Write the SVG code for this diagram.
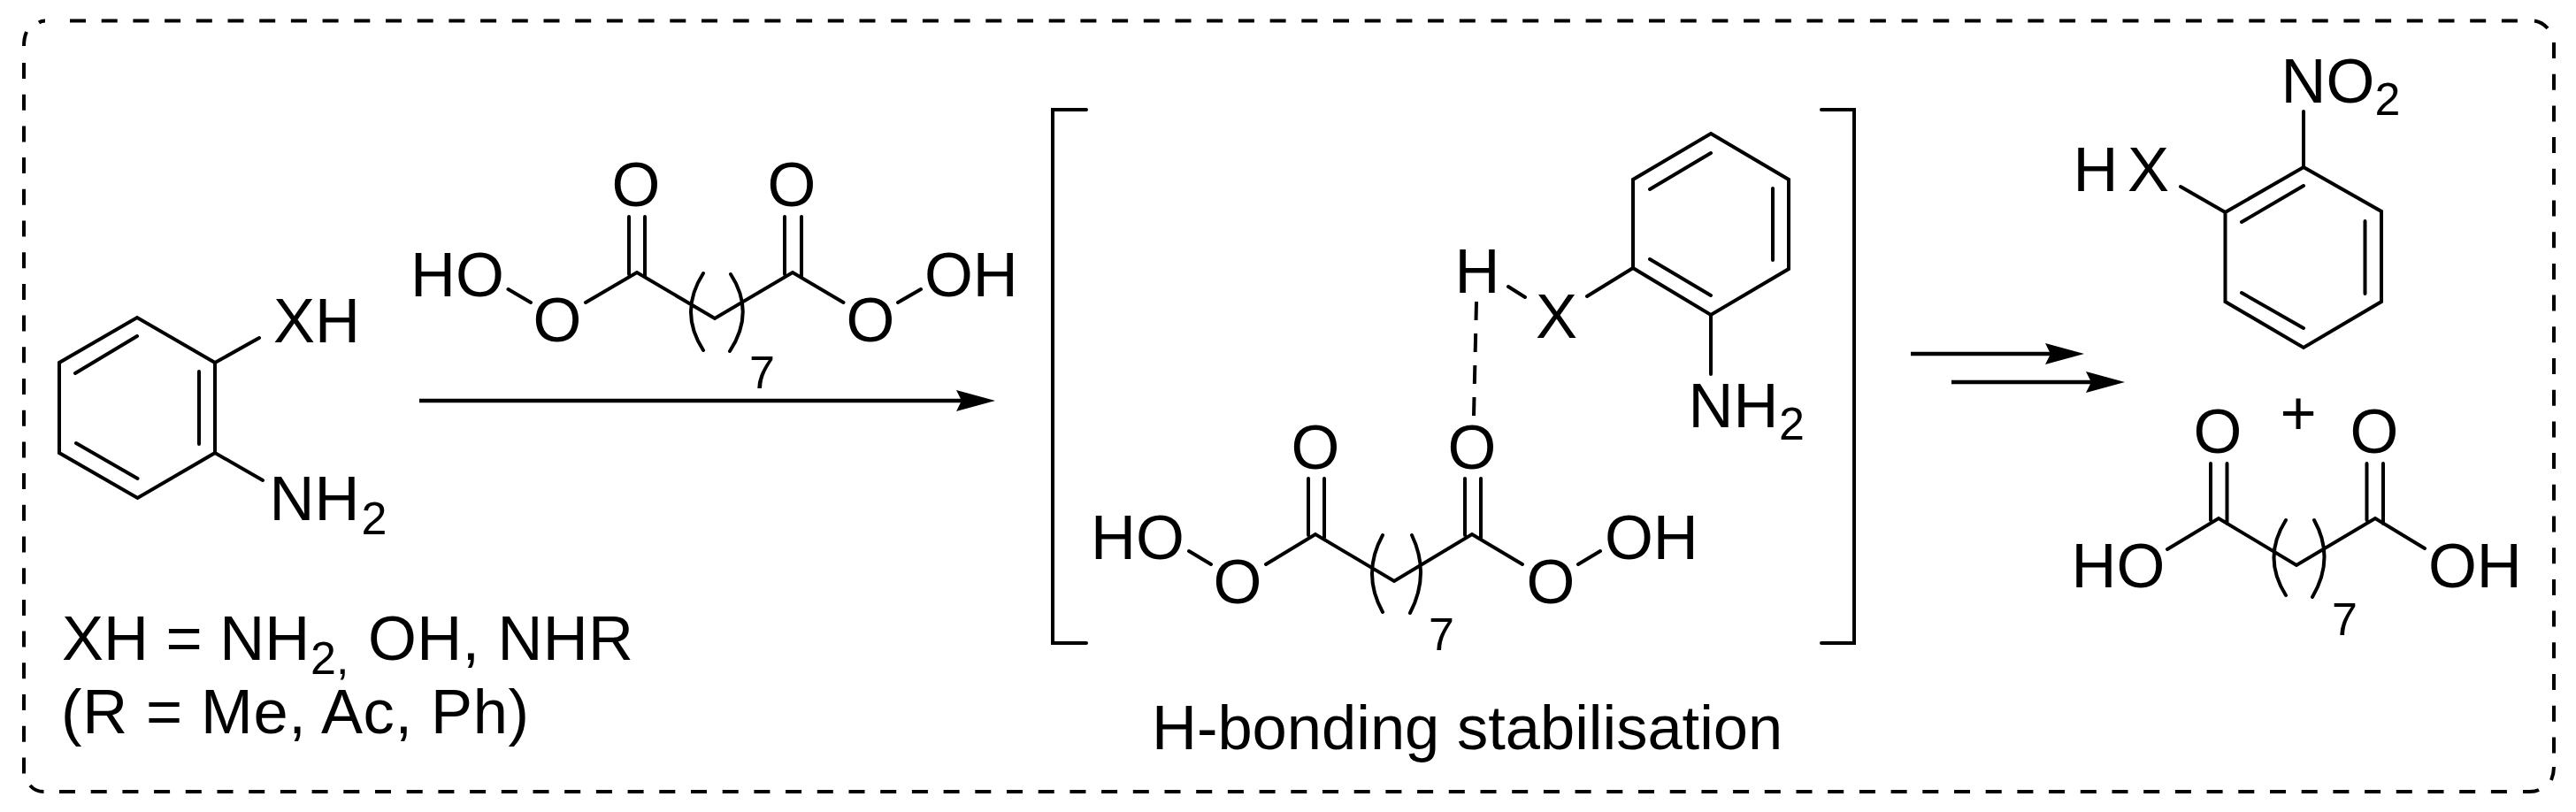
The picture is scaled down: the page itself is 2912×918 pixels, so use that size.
<svg xmlns="http://www.w3.org/2000/svg" width="2912" height="918" viewBox="0 0 2912 918">
<style>
.b{fill:none;stroke:#000;stroke-width:4;stroke-linecap:round;stroke-linejoin:miter}
.t{font-family:"Liberation Sans",Arial,sans-serif;font-size:70.5px;fill:#000}
.m{text-anchor:middle}
.s{font-family:"Liberation Sans",Arial,sans-serif;font-size:52px;fill:#000}
.frame{fill:none;stroke:#000;stroke-width:4;stroke-dasharray:18 17.7}
.corner{fill:none;stroke:#000;stroke-width:4}
.arrow{fill:none;stroke:#000;stroke-width:4.5;marker-end:url(#head)}
</style>
<defs>
<marker id="head" markerUnits="userSpaceOnUse" markerWidth="46" markerHeight="26" refX="6" refY="12" orient="auto" overflow="visible">
<path d="M0 0L44 12L0 24L6 12Z" fill="#000"/>
</marker>
</defs>
<g id="frame">
<path class="frame" d="M79 23.5H2846M2887 48V860M67 895H2846M27 71V875"/>
<path class="corner" d="M27 52Q27 43 30 36M44 25.5Q47 23.5 51 23.5M2865 23.5Q2874 25 2880 32M2887 867Q2887 875 2884 882M2852 895H2860Q2866 895 2870 893M34 888Q40 895 49.500 895"/>
</g>
<g id="connectors">
<path class="arrow" d="M474 453H1087"/>
<path class="arrow" d="M2160 400H2318"/>
<path class="arrow" d="M2206 432H2364"/>
</g>
<g id="aniline">
<path class="b" d="M243 410L155 359L67 410V512L155.500 563L243 512ZM85 422L155 380M225 420V502M86 501L155.500 541M243 410L293 382M243 512L297 543"/>
<text class="t" x="309" y="387">XH</text>
<text class="t" x="304.500" y="588">NH</text>
<text class="s" x="408.500" y="604">2</text>
</g>
<g id="conditions">
<text class="t" x="70" y="746">XH = NH</text>
<text class="s" x="351" y="762">2,</text>
<text class="t" x="416" y="746" textLength="300">OH, NHR</text>
<text class="t" x="69" y="829" textLength="529">(R = Me, Ac, Ph)</text>
</g>
<g id="reagent">
<path class="b" d="M574.500 327L600 342M662 342L720 308L808 360L896 308L953.500 342M1015 342L1041 327M711 245V310M729 245V313M887 245V310M906 245V313M795 309Q767 352.500 795 396M826 310Q854 353 825 397"/>
<text class="t" x="464" y="335">HO</text>
<text class="t m" x="630" y="386">O</text>
<text class="t m" x="719" y="233">O</text>
<text class="t m" x="895" y="233">O</text>
<text class="t m" x="984" y="386">O</text>
<text class="t" x="1045" y="335">OH</text>
<text class="s" x="847" y="439">7</text>
</g>
<g id="intermediate">
<path class="b" d="M1228 124H1190V727H1228M2059 124H2096V727H2059"/>
<path class="b" d="M1934 151L2022 203V304L1934 356L1846 303V203ZM1865 214L1934 173M2004 213V294M1865 293L1934 334M1846 303L1794 335M1705 324L1724 336M1934 356V423M1344 623L1369 638M1431 638L1487 604L1576 657L1664 604L1721 638M1784 638L1809 623M1479 541V605M1497 541V608M1656 541V605M1674 541V608M1563 605Q1539 648.500 1563 692M1596 605Q1617 649 1594 693"/>
<path class="b" style="stroke-dasharray:21 15;stroke-linecap:butt" d="M1669 341L1666 470"/>
<text class="t" x="1644.500" y="331">H</text>
<text class="t" x="1736" y="382">X</text>
<text class="t" x="1908.500" y="483">NH</text>
<text class="s" x="2011" y="497">2</text>
<text class="t" x="1233" y="632">HO</text>
<text class="t m" x="1399" y="682">O</text>
<text class="t m" x="1487" y="530">O</text>
<text class="t m" x="1664" y="530">O</text>
<text class="t m" x="1753" y="682">O</text>
<text class="t" x="1814" y="632">OH</text>
<text class="s" x="1615" y="735">7</text>
<text class="t" x="1302" y="847">H-bonding stabilisation</text>
</g>
<g id="nitro-product">
<path class="b" d="M2604 189L2692 239V341L2604 393L2515.500 341V240ZM2534 251L2604 210M2673.500 250V332M2534 331L2604 371M2604 126V189M2515.500 240L2465 211"/>
<text class="t" x="2578.500" y="116">NO</text>
<text class="s" x="2684.500" y="130">2</text>
<text class="t" x="2343.500" y="216">H</text>
<text class="t" x="2405" y="216">X</text>
</g>
<g id="plus"><text class="t m" x="2598" y="491">+</text></g>
<g id="acid-product">
<path class="b" d="M2450 621L2508 586L2596 639L2685 586L2741 620M2499 524V588M2517.500 524V592M2675.500 524V588M2694 524V592M2584 588Q2557 630.500 2584 673M2616 588Q2640 631 2614 675"/>
<text class="t" x="2341.500" y="664">HO</text>
<text class="t m" x="2507" y="512">O</text>
<text class="t m" x="2684" y="512">O</text>
<text class="t" x="2745" y="664">OH</text>
<text class="s" x="2636" y="718">7</text>
</g>
</svg>
